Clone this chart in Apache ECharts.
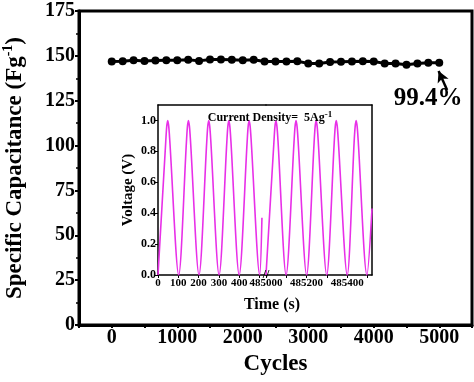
<!DOCTYPE html>
<html>
<head>
<meta charset="utf-8">
<script src="https://cdn.jsdelivr.net/npm/echarts@6/dist/echarts.min.js"></script>
<style>
html,body{margin:0;padding:0;background:#fff;}
#c{width:474px;height:382px;}
</style>
</head>
<body>
<div id="c"></div>
<script>
// Main chart data
var cycles = [0,167,333,500,667,833,1000,1167,1333,1500,1667,1833,2000,2167,2333,2500,2667,2833,3000,3167,3333,3500,3667,3833,4000,4167,4333,4500,4667,4833,5000];
var capacitance = [146.8,147.0,147.5,147.2,147.4,147.6,147.6,147.8,147.2,148.0,148.0,147.8,147.6,147.8,146.8,146.8,146.9,147.0,145.8,145.8,146.6,146.7,146.9,147.0,146.9,145.8,145.7,145.0,145.8,146.2,146.2];
var yTicks = [0,25,50,75,100,125,150,175];
var xTickLabels = [0,1000,2000,3000,4000,5000];
var retention = '99.4%';

// Inset data (left part of broken time axis)
var timeLeft = [0,38,43,48,53,58,102,140,145,150,155,160,202,240,245,250,255,260,301,339,344,349,354,359,400,439,444,449,454,459,501,512];
var voltLeft = [0.00,0.86,0.96,1.00,0.96,0.87,0.00,0.86,0.96,1.00,0.96,0.87,0.00,0.86,0.96,1.00,0.96,0.87,0.00,0.86,0.96,1.00,0.96,0.87,0.00,0.86,0.96,1.00,0.96,0.87,0.00,0.37];
// Inset data (right part of broken time axis)
var timeRight = [485000,485039,485044,485049,485054,485059,485099,485138,485143,485148,485153,485158,485200,485237,485242,485247,485252,485257,485299,485336,485341,485346,485351,485356,485400,485434,485439,485444,485449,485454,485497,485522];
var voltRight = [0.00,0.86,0.96,1.00,0.96,0.87,0.00,0.86,0.96,1.00,0.96,0.87,0.00,0.86,0.96,1.00,0.96,0.87,0.00,0.86,0.96,1.00,0.96,0.87,0.00,0.86,0.96,1.00,0.96,0.87,0.00,0.43];
var insetLeftLabels = [0,100,200,300,400];
var insetRightLabels = [485000,485200,485400];
var insetYLabels = [0,0.2,0.4,0.6,0.8,1.0];

var FONT = '"Liberation Serif","Times New Roman",serif';
var MAG = '#e830e8';

function zip(a,b){var r=[];for(var i=0;i<a.length;i++)r.push([a[i],b[i]]);return r;}

var chart = echarts.init(document.getElementById('c'), null, {renderer:'canvas'});

var option = {
  backgroundColor:'#fff',
  animation:false,
  title:[
    {text:'Time (s)', left:267, top:292, textAlign:'center',
     textStyle:{fontFamily:FONT,fontWeight:'bold',fontSize:16,color:'#000'}},
    {text:'{a|Current Density=  5Ag}{s|-1}', left:265, top:105, textAlign:'center',
     textStyle:{rich:{
       a:{fontFamily:FONT,fontWeight:'bold',fontSize:12,color:'#000',lineHeight:16},
       s:{fontFamily:FONT,fontWeight:'bold',fontSize:9,color:'#000',verticalAlign:'top',lineHeight:16}
     }}}
  ],
  grid:[
    {left:79,right:2,top:11,bottom:57,show:true,borderColor:'#000',borderWidth:3,containLabel:false,outerBoundsMode:'none'},
    {left:158,width:108,top:105,bottom:107,show:true,backgroundColor:'#fff',borderWidth:0,containLabel:false,outerBoundsMode:'none'},
    {left:266,right:102,top:105,bottom:107,show:true,backgroundColor:'#fff',borderWidth:0,containLabel:false,outerBoundsMode:'none'}
  ],
  xAxis:[
    {gridIndex:0,type:'value',min:-500,max:5500,interval:500,
     name:'Cycles',nameLocation:'middle',nameGap:13,
     nameTextStyle:{fontFamily:FONT,fontWeight:'bold',fontSize:23,color:'#000',verticalAlign:'top'},
     axisLine:{onZero:false,lineStyle:{color:'#000',width:3}},
     axisTick:{show:true,length:3,lineStyle:{color:'#000',width:2}},
     splitLine:{show:false},
     axisLabel:{margin:3,fontFamily:FONT,fontWeight:'bold',fontSize:20,color:'#000',
       formatter:function(v){return xTickLabels.indexOf(v)>=0?String(v):'';}}},
    {gridIndex:1,type:'value',min:0,max:532,interval:100,position:'bottom',
     axisLine:{onZero:false,lineStyle:{color:'#000',width:1.5}},
     axisTick:{show:true,length:3,lineStyle:{color:'#000'}},
     splitLine:{show:false},
     axisLabel:{margin:3,fontFamily:FONT,fontWeight:'bold',fontSize:11,color:'#000',showMaxLabel:false,
       formatter:function(v){return insetLeftLabels.indexOf(v)>=0?String(v):'';}}},
    {gridIndex:1,type:'value',min:0,max:532,position:'top',
     axisLine:{onZero:false,lineStyle:{color:'#000',width:1.5}},
     axisTick:{show:false},axisLabel:{show:false},splitLine:{show:false}},
    {gridIndex:2,type:'value',min:485000,max:485522,interval:100,position:'bottom',
     axisLine:{onZero:false,lineStyle:{color:'#000',width:1.5}},
     axisTick:{show:true,length:3,lineStyle:{color:'#000'}},
     splitLine:{show:false},
     axisLabel:{margin:3,fontFamily:FONT,fontWeight:'bold',fontSize:11,color:'#000',showMaxLabel:false,
       formatter:function(v){return insetRightLabels.indexOf(v)>=0?String(v):'';}}},
    {gridIndex:2,type:'value',min:485000,max:485522,position:'top',
     axisLine:{onZero:false,lineStyle:{color:'#000',width:1.5}},
     axisTick:{show:false},axisLabel:{show:false},splitLine:{show:false}}
  ],
  yAxis:[
    {gridIndex:0,type:'value',min:0,max:175,interval:25,
     name:'{a|Specific Capacitance (Fg}{s|-1}{a|)}',nameLocation:'middle',nameGap:50,
     nameTextStyle:{rich:{
       a:{fontFamily:FONT,fontWeight:'bold',fontSize:23,color:'#000',lineHeight:28},
       s:{fontFamily:FONT,fontWeight:'bold',fontSize:14,color:'#000',verticalAlign:'top',lineHeight:28}
     }},
     axisLine:{show:true,onZero:false,lineStyle:{color:'#000',width:3}},
     axisTick:{show:true,length:4,lineStyle:{color:'#000',width:2}},
     minorTick:{show:true,splitNumber:2,length:3,lineStyle:{color:'#000',width:1.5}},
     splitLine:{show:false},
     axisLabel:{margin:4,fontFamily:FONT,fontWeight:'bold',fontSize:20,color:'#000',
       formatter:function(v){return yTicks.indexOf(v)>=0?String(v):'';}}},
    {gridIndex:1,type:'value',min:0,max:1.1,interval:0.2,position:'left',
     name:'Voltage (V)',nameLocation:'middle',nameGap:22,
     nameTextStyle:{fontFamily:FONT,fontWeight:'bold',fontSize:15,color:'#000'},
     axisLine:{show:true,onZero:false,lineStyle:{color:'#000',width:1.5}},
     axisTick:{show:true,length:3,lineStyle:{color:'#000'}},
     splitLine:{show:false},
     axisLabel:{margin:2,fontFamily:FONT,fontWeight:'bold',fontSize:12,color:'#000',showMaxLabel:false,
       formatter:function(v){
         for(var i=0;i<insetYLabels.length;i++){if(Math.abs(insetYLabels[i]-v)<1e-6)return v.toFixed(1);}
         return '';}}},
    {gridIndex:2,type:'value',min:0,max:1.1,interval:0.2,position:'right',
     axisLine:{show:true,onZero:false,lineStyle:{color:'#000',width:1.5}},
     axisTick:{show:false},axisLabel:{show:false},splitLine:{show:false}}
  ],
  series:[
    {type:'line',xAxisIndex:0,yAxisIndex:0,data:zip(cycles,capacitance),
     symbol:'circle',symbolSize:8,itemStyle:{color:'#000'},
     lineStyle:{color:'#000',width:3},z:3,
     markPoint:{symbol:'circle',symbolSize:0,silent:true,
       data:[{coord:[4830,126],label:{show:true,position:'inside',formatter:retention,
         fontFamily:FONT,fontWeight:'bold',fontSize:25,color:'#000'}}]},
     markLine:{silent:true,symbol:['none','arrow'],symbolSize:[9,11],
       lineStyle:{color:'#000',width:2.5,type:'solid'},label:{show:false},
       data:[[{coord:[5120,131]},{coord:[4990,141.5]}]]}},
    {type:'line',xAxisIndex:1,yAxisIndex:1,data:zip(timeLeft,voltLeft),
     symbol:'none',smooth:0.3,lineStyle:{color:MAG,width:1.6},z:5},
    {type:'line',xAxisIndex:3,yAxisIndex:2,data:zip(timeRight,voltRight),
     symbol:'none',smooth:0.3,lineStyle:{color:MAG,width:1.6},z:5}
  ]
};
chart.setOption(option);

// break marks "//" on the inset time axis
var p = chart.convertToPixel({xAxisIndex:3,yAxisIndex:2},[485000,0]);
chart.setOption({graphic:[{type:'text',x:p[0],y:p[1],z:100,
  style:{text:'//',font:'bold 12px '+FONT,fill:'#000',align:'center',verticalAlign:'middle'}}]});
</script>
</body>
</html>
